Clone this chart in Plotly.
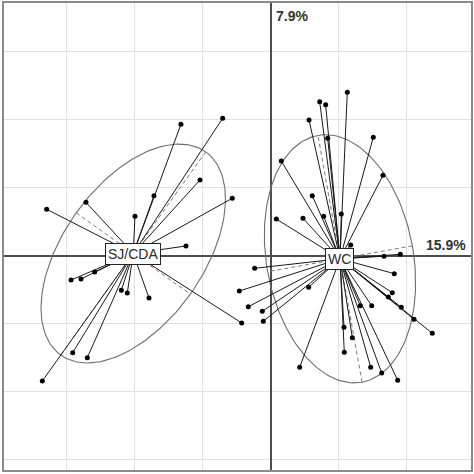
import numpy as np
import plotly.graph_objects as go

# ---- data (factor-map coordinates, one grid cell = 1 unit) ----
group_names = ["SJ/CDA", "WC"]

sj_x = [-1.324, -0.710, -1.044, -0.569, -1.721, -2.721, -3.299, -2.000, -1.250,
        -2.941, -2.794, -2.593, -2.201, -2.113, -1.794, -0.431, -2.916, -2.701, -3.363]
sj_y = [1.937, 2.025, 1.118, 0.849, 0.887, 0.790, 0.687, 0.584, 0.147,
        -0.353, -0.338, -0.235, -0.504, -0.544, -0.618, -0.985, -1.422, -1.496, -1.838]

wc_x = [1.122, 0.716, 0.804, 0.559, 0.834, 1.504, 0.151, 1.647, 0.607, 1.034,
        0.775, 0.078, 0.471, 1.172, 1.901, 1.662, 1.813, -0.240, -0.466, 0.554,
        1.784, 1.725, -0.334, -0.128, 1.313, 1.481, 1.916, -0.113, 2.103, 2.372,
        1.074, 1.196, 1.078, 0.422, 1.466, 1.628, 1.863]
wc_y = [2.407, 2.269, 2.225, 2.000, 1.731, 1.746, 1.397, 1.187, 0.887, 0.618,
        0.584, 0.544, 0.554, 0.162, 0.025, -0.004, -0.260, -0.181, -0.515, -0.460,
        -0.540, -0.603, -0.746, -0.813, -0.731, -0.731, -0.754, -0.960, -0.931, -1.137,
        -1.049, -1.201, -1.416, -1.637, -1.637, -1.721, -1.828]

axis1_label = "15.9%"
axis2_label = "7.9%"
cellipse = 1.5

X_RANGE = [-3.941, 2.956]
Y_RANGE = [-3.162, 3.735]

fig = go.Figure()


def ellipse(xs, ys, coeff):
    xs = np.asarray(xs); ys = np.asarray(ys)
    mx, my = xs.mean(), ys.mean()
    vx = ((xs - mx) ** 2).mean()
    vy = ((ys - my) ** 2).mean()
    cxy = ((xs - mx) * (ys - my)).mean()
    delta = np.sqrt((vx - vy) ** 2 + 4 * cxy * cxy)
    l1 = (vx + vy + delta) / 2
    l2 = max(vx + vy - l1, 0)
    l1 = np.sqrt(l1); l2 = np.sqrt(l2)
    a0 = 1.0
    b0 = (l1 * l1 - vx) / cxy
    nrm = np.sqrt(a0 * a0 + b0 * b0)
    a0 /= nrm; b0 /= nrm
    c11 = coeff * a0 * l1
    c12 = -coeff * b0 * l2
    c21 = coeff * b0 * l1
    c22 = coeff * a0 * l2
    t = np.linspace(0, 2 * np.pi, 201)
    ex = mx + c11 * np.cos(t) + c12 * np.sin(t)
    ey = my + c21 * np.cos(t) + c22 * np.sin(t)
    ax = [mx + c11, mx - c11, None, mx + c12, mx - c12]
    ay = [my + c21, my - c21, None, my + c22, my - c22]
    return mx, my, ex, ey, ax, ay


for name, xs, ys in [(group_names[0], sj_x, sj_y), (group_names[1], wc_x, wc_y)]:
    mx, my, ex, ey, ax, ay = ellipse(xs, ys, cellipse)
    fig.add_trace(go.Scatter(x=ex, y=ey, mode="lines",
                             line=dict(color="#6e6e6e", width=1.1),
                             hoverinfo="skip", showlegend=False))
    fig.add_trace(go.Scatter(x=ax, y=ay, mode="lines",
                             line=dict(color="#7a7a7a", width=1, dash="4px,3px"),
                             hoverinfo="skip", showlegend=False))
    sx, sy = [], []
    for px, py in zip(xs, ys):
        sx += [mx, px, None]
        sy += [my, py, None]
    fig.add_trace(go.Scatter(x=sx, y=sy, mode="lines",
                             line=dict(color="#1a1a1a", width=1),
                             hoverinfo="skip", showlegend=False))
    fig.add_trace(go.Scatter(x=xs, y=ys, mode="markers",
                             marker=dict(color="#000000", size=5),
                             name=name, showlegend=False))
    fig.add_annotation(x=mx, y=my, text=name, showarrow=False,
                       font=dict(family="Liberation Sans, Arial", size=14, color="#2a2a2a"),
                       bgcolor="white", bordercolor="#222222", borderwidth=1, borderpad=2)

fig.add_annotation(x=0, y=Y_RANGE[1], xref="x", yref="y", text="<b>" + axis2_label + "</b>",
                   showarrow=False, xanchor="left", yanchor="top", xshift=3, yshift=-4,
                   font=dict(family="Liberation Sans, Arial", size=14, color="#333333"))
fig.add_annotation(x=X_RANGE[1], y=0, xref="x", yref="y", text="<b>" + axis1_label + "</b>",
                   showarrow=False, xanchor="right", yanchor="bottom", xshift=-4, yshift=1,
                   font=dict(family="Liberation Sans, Arial", size=14, color="#333333"))

axis_common = dict(showticklabels=False, ticks="", dtick=1, tick0=0,
                   showgrid=True, gridcolor="#e0e0e0", gridwidth=1.3,
                   zeroline=True, zerolinecolor="#4d4d4d", zerolinewidth=1.5,
                   showline=False, fixedrange=True)
fig.update_xaxes(range=X_RANGE, **axis_common)
fig.update_yaxes(range=Y_RANGE, **axis_common)

fig.add_shape(type="rect", xref="paper", yref="paper", x0=0, x1=1, y0=0, y1=1,
              line=dict(color="#8a8a8a", width=2), layer="above")

fig.update_layout(width=474, height=474,
                  margin=dict(l=3, r=2, t=2, b=3),
                  paper_bgcolor="white", plot_bgcolor="white",
                  showlegend=False)

fig.write_html("out.html",
               config={"displayModeBar": False},
               post_script="document.body.style.margin='0';document.body.style.padding='0';")
